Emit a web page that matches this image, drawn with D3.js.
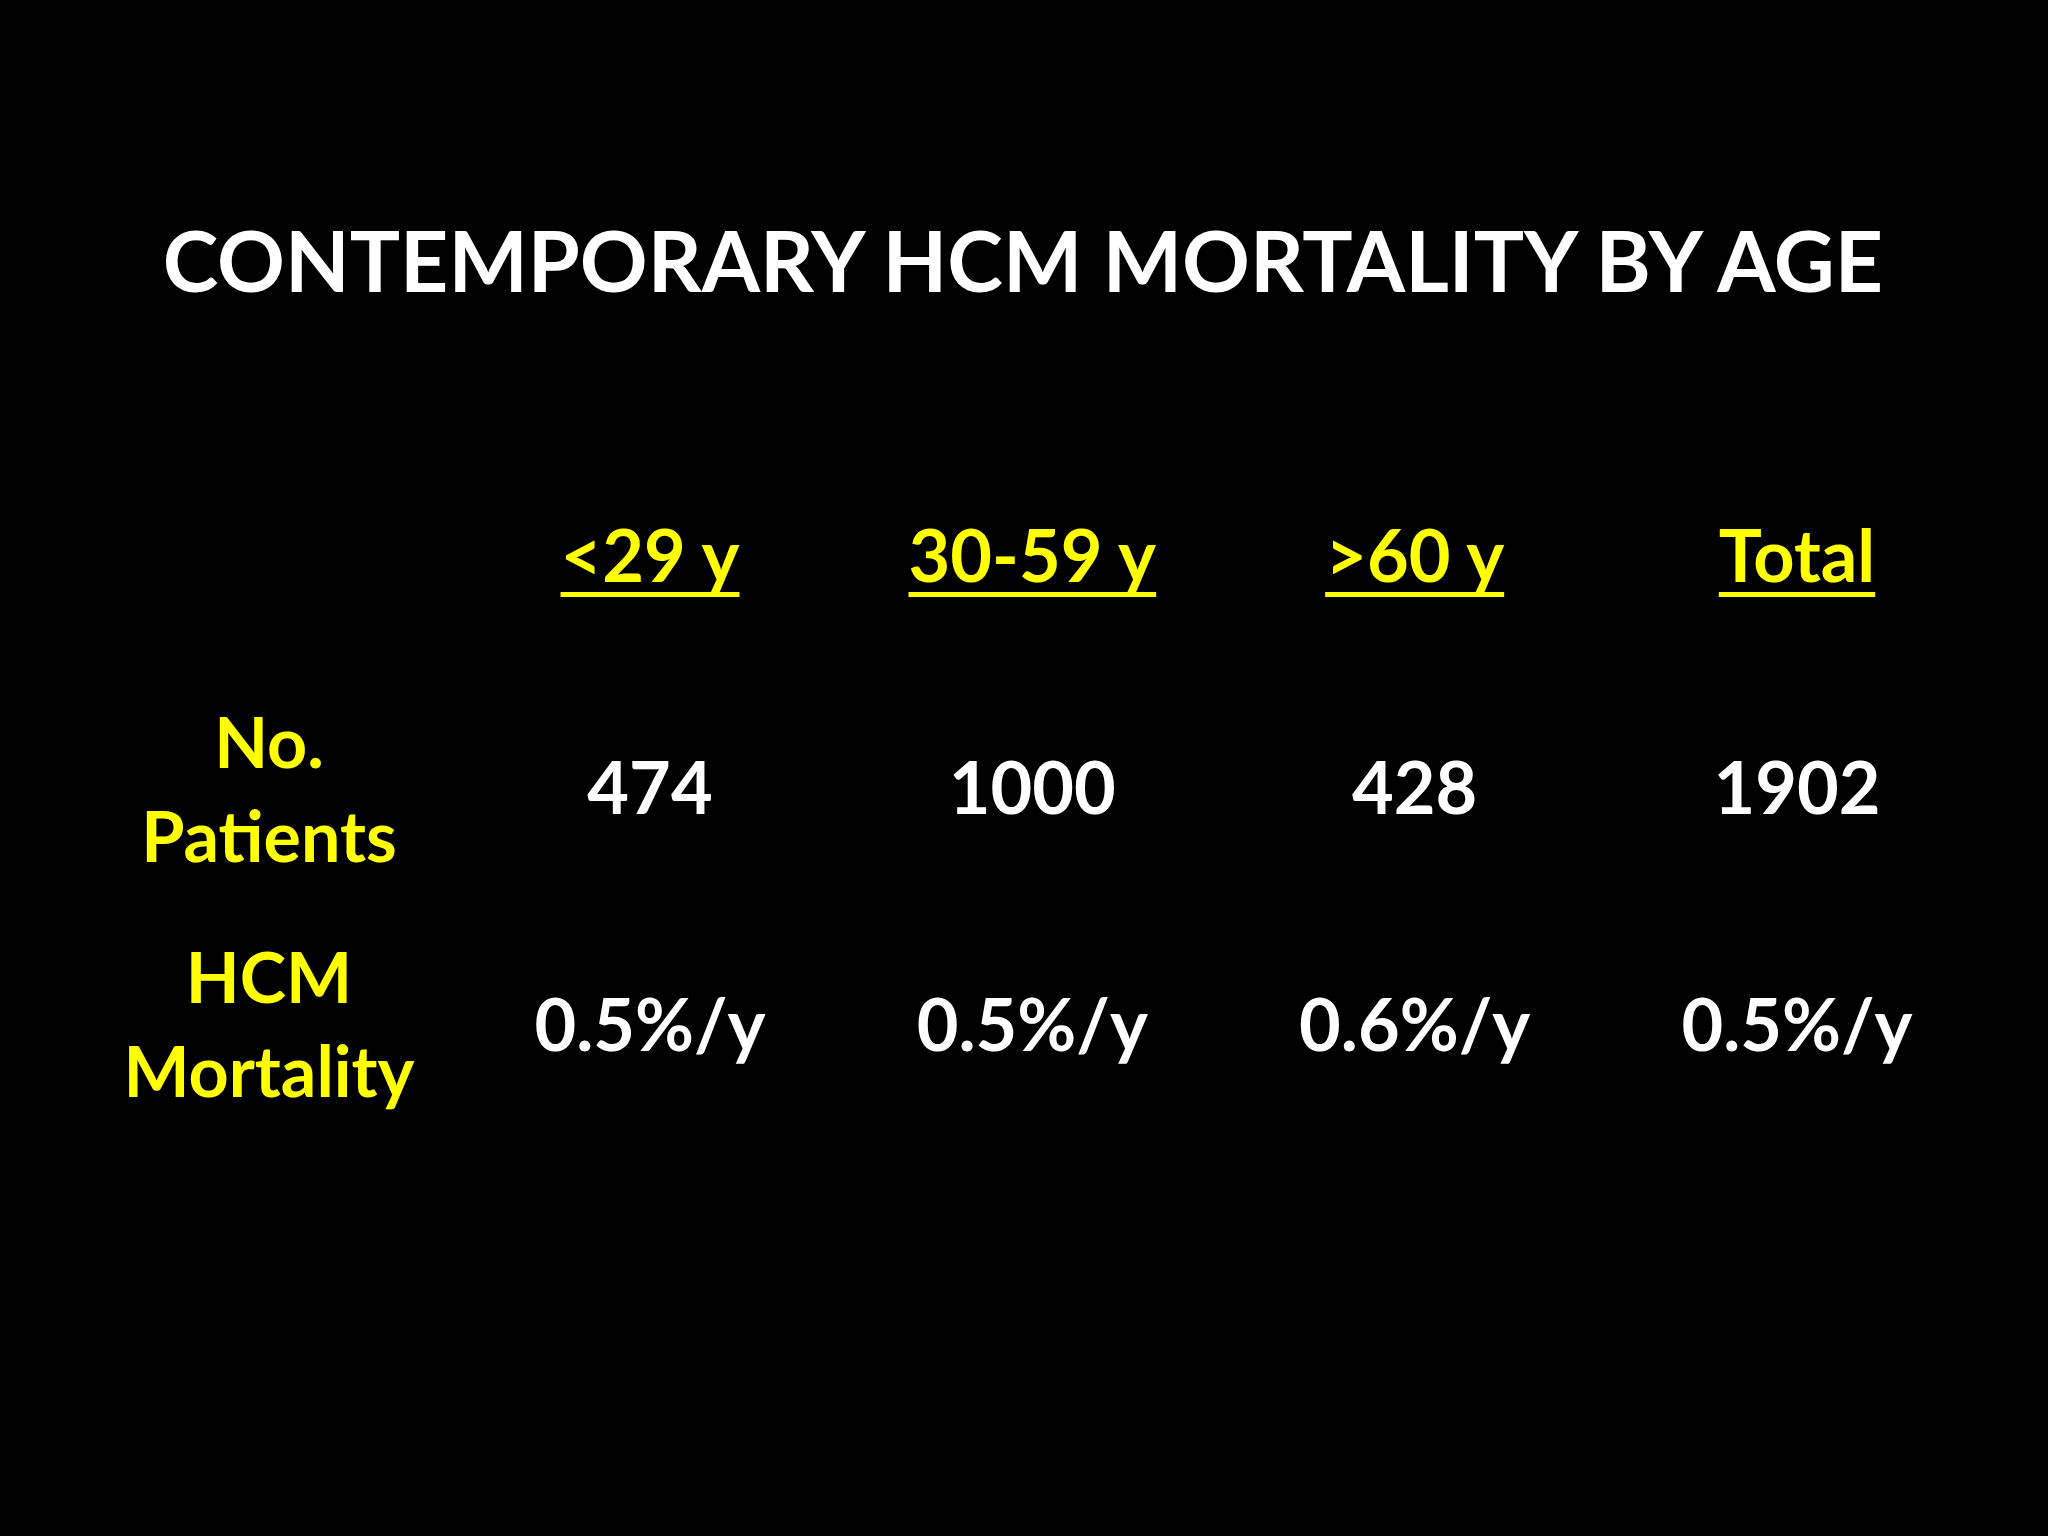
<!DOCTYPE html>
<html><head><meta charset="utf-8">
<script src="https://cdn.jsdelivr.net/npm/d3@7"></script>
<style>body{margin:0;background:#000;}svg{display:block}</style>
</head><body>
<script>
const title = "CONTEMPORARY HCM MORTALITY BY AGE";
const columns = ["<29 y", "30-59 y", ">60 y", "Total"];
const rowLabels = [["No.", "Patients"], ["HCM", "Mortality"]];
const patients = ["474", "1000", "428", "1902"];
const mortality = ["0.5%/y", "0.5%/y", "0.6%/y", "0.5%/y"];

const W = 2048, H = 1536;
const font = "Lato, 'Open Sans', sans-serif";
const svg = d3.select("body").append("svg").attr("width", W).attr("height", H);
svg.append("rect").attr("width", W).attr("height", H).attr("fill", "#000");

svg.append("text").attr("x", 1023).attr("y", 292).attr("text-anchor", "middle")
  .attr("fill", "#fff").attr("font-family", font).attr("font-weight", "bold")
  .attr("font-size", 84).text(title);

const x = d3.scalePoint().domain(columns).range([650, 1797]);
const yellow = "#ffff00";

const hdr = svg.selectAll(".hdr").data(columns).enter().append("g");
hdr.append("text").attr("x", d => x(d)).attr("y", 582).attr("text-anchor", "middle")
  .attr("fill", yellow).attr("font-family", font).attr("font-weight", "bold")
  .attr("font-size", 72).text(d => d)
  .each(function(d){
    const bb = this.getBBox();
    d3.select(this.parentNode).append("rect").attr("x", bb.x).attr("y", 592)
      .attr("width", bb.width).attr("height", 5).attr("fill", yellow);
  });

const labelY = [[768, 862], [1003, 1097]];
rowLabels.forEach((lines, i) => {
  lines.forEach((l, j) => {
    svg.append("text").attr("x", 269).attr("y", labelY[i][j]).attr("text-anchor", "middle")
      .attr("fill", yellow).attr("font-family", font).attr("font-weight", "bold")
      .attr("font-size", 70).text(l);
  });
});

[[patients, 814], [mortality, 1051]].forEach(([vals, y]) => {
  svg.selectAll(null).data(vals).enter().append("text")
    .attr("x", (d, i) => x(columns[i])).attr("y", y).attr("text-anchor", "middle")
    .attr("fill", "#fff").attr("font-family", font).attr("font-weight", "bold")
    .attr("font-size", 72).text(d => d);
});
</script>
</body></html>
